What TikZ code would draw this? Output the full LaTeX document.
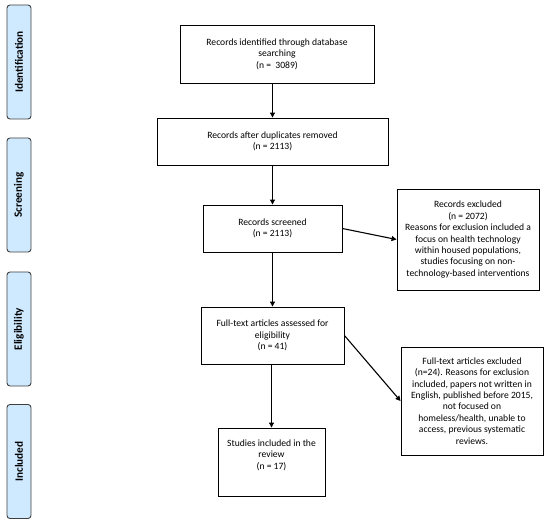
\documentclass[tikz,border=0pt]{standalone}
\usepackage{fontspec}
\setmainfont{Carlito}
\usetikzlibrary{arrows.meta}
\definecolor{sidefill}{HTML}{CFEAFF}
\definecolor{sideline}{HTML}{3F3F3F}
\tikzset{
  x=1pt, y=1pt,
  box/.style={draw=black, line width=0.9pt, fill=white, align=center, inner sep=1pt,
    font=\fontsize{9.6}{11.4}\selectfont},
  side/.style={draw=sideline, line width=0.9pt, fill=sidefill, rounded corners=3pt,
    rotate=90, minimum width=114pt, minimum height=24pt, inner sep=0pt,
    font=\fontsize{11.2}{12}\selectfont\bfseries},
  txt/.style={align=center, inner sep=0pt, font=\fontsize{9.6}{11.4}\selectfont},
  arr/.style={line width=1.1pt, -{Triangle[length=5pt,width=5pt]}},
}
\begin{document}
\begin{tikzpicture}
\useasboundingbox (0,0) rectangle (550,-524);
% side labels
\node[side] (ident) at (19,-62) {Identification};
\node[side] (screen) at (19,-195) {Screening};
\node[side] (elig) at (19,-329) {Eligibility};
\node[side] (incl) at (19,-461.5) {Included};
% main boxes
\node[box, minimum width=194pt, minimum height=58pt] (b1) at (277,-54)
  {Records identified through database\\searching\\(n =\ \ 3089)};
\node[box, minimum width=231pt, minimum height=47pt] (b2) at (272.5,-141.5)
  {Records after duplicates removed\\(n = 2113)};
\node[box, minimum width=139pt, minimum height=47pt] (b3) at (272.5,-228.5)
  {Records screened\\(n = 2113)};
\node[box, minimum width=142pt, minimum height=101pt] (ex1) at (468,-239.5)
  {Records excluded\\(n = 2072)\\Reasons for exclusion included a\\focus on health technology\\within housed populations,\\studies focusing on non-\\technology-based interventions};
\node[box, minimum width=143pt, minimum height=57pt] (b4) at (272.5,-335.5)
  {Full-text articles assessed for\\eligibility\\(n = 41)};
\node[box, minimum width=142pt, minimum height=108pt] (ex2) at (472,-401)
  {Full-text articles excluded\\(n=24). Reasons for exclusion\\included, papers not written in\\English, published before 2015,\\not focused on\\homeless/health, unable to\\access, previous systematic\\reviews.};
\node[box, minimum width=107pt, minimum height=68pt] (b5) at (271.5,-462) {};
\node[txt] (b5t) at (271.5,-455) {Studies included in the\\review\\(n = 17)};
% connectors
\draw[arr] (b1.south -| b2.north) -- (b2.north);
\draw[arr] (b2.south) -- (b3.north);
\draw[arr] (b3.east) -- (ex1.west);
\draw[arr] (b3.south) -- (b4.north);
\draw[arr] (b4.east) -- (ex2.west);
\draw[arr] (b4.south -| b5.north) -- (b5.north);
\end{tikzpicture}
\end{document}
